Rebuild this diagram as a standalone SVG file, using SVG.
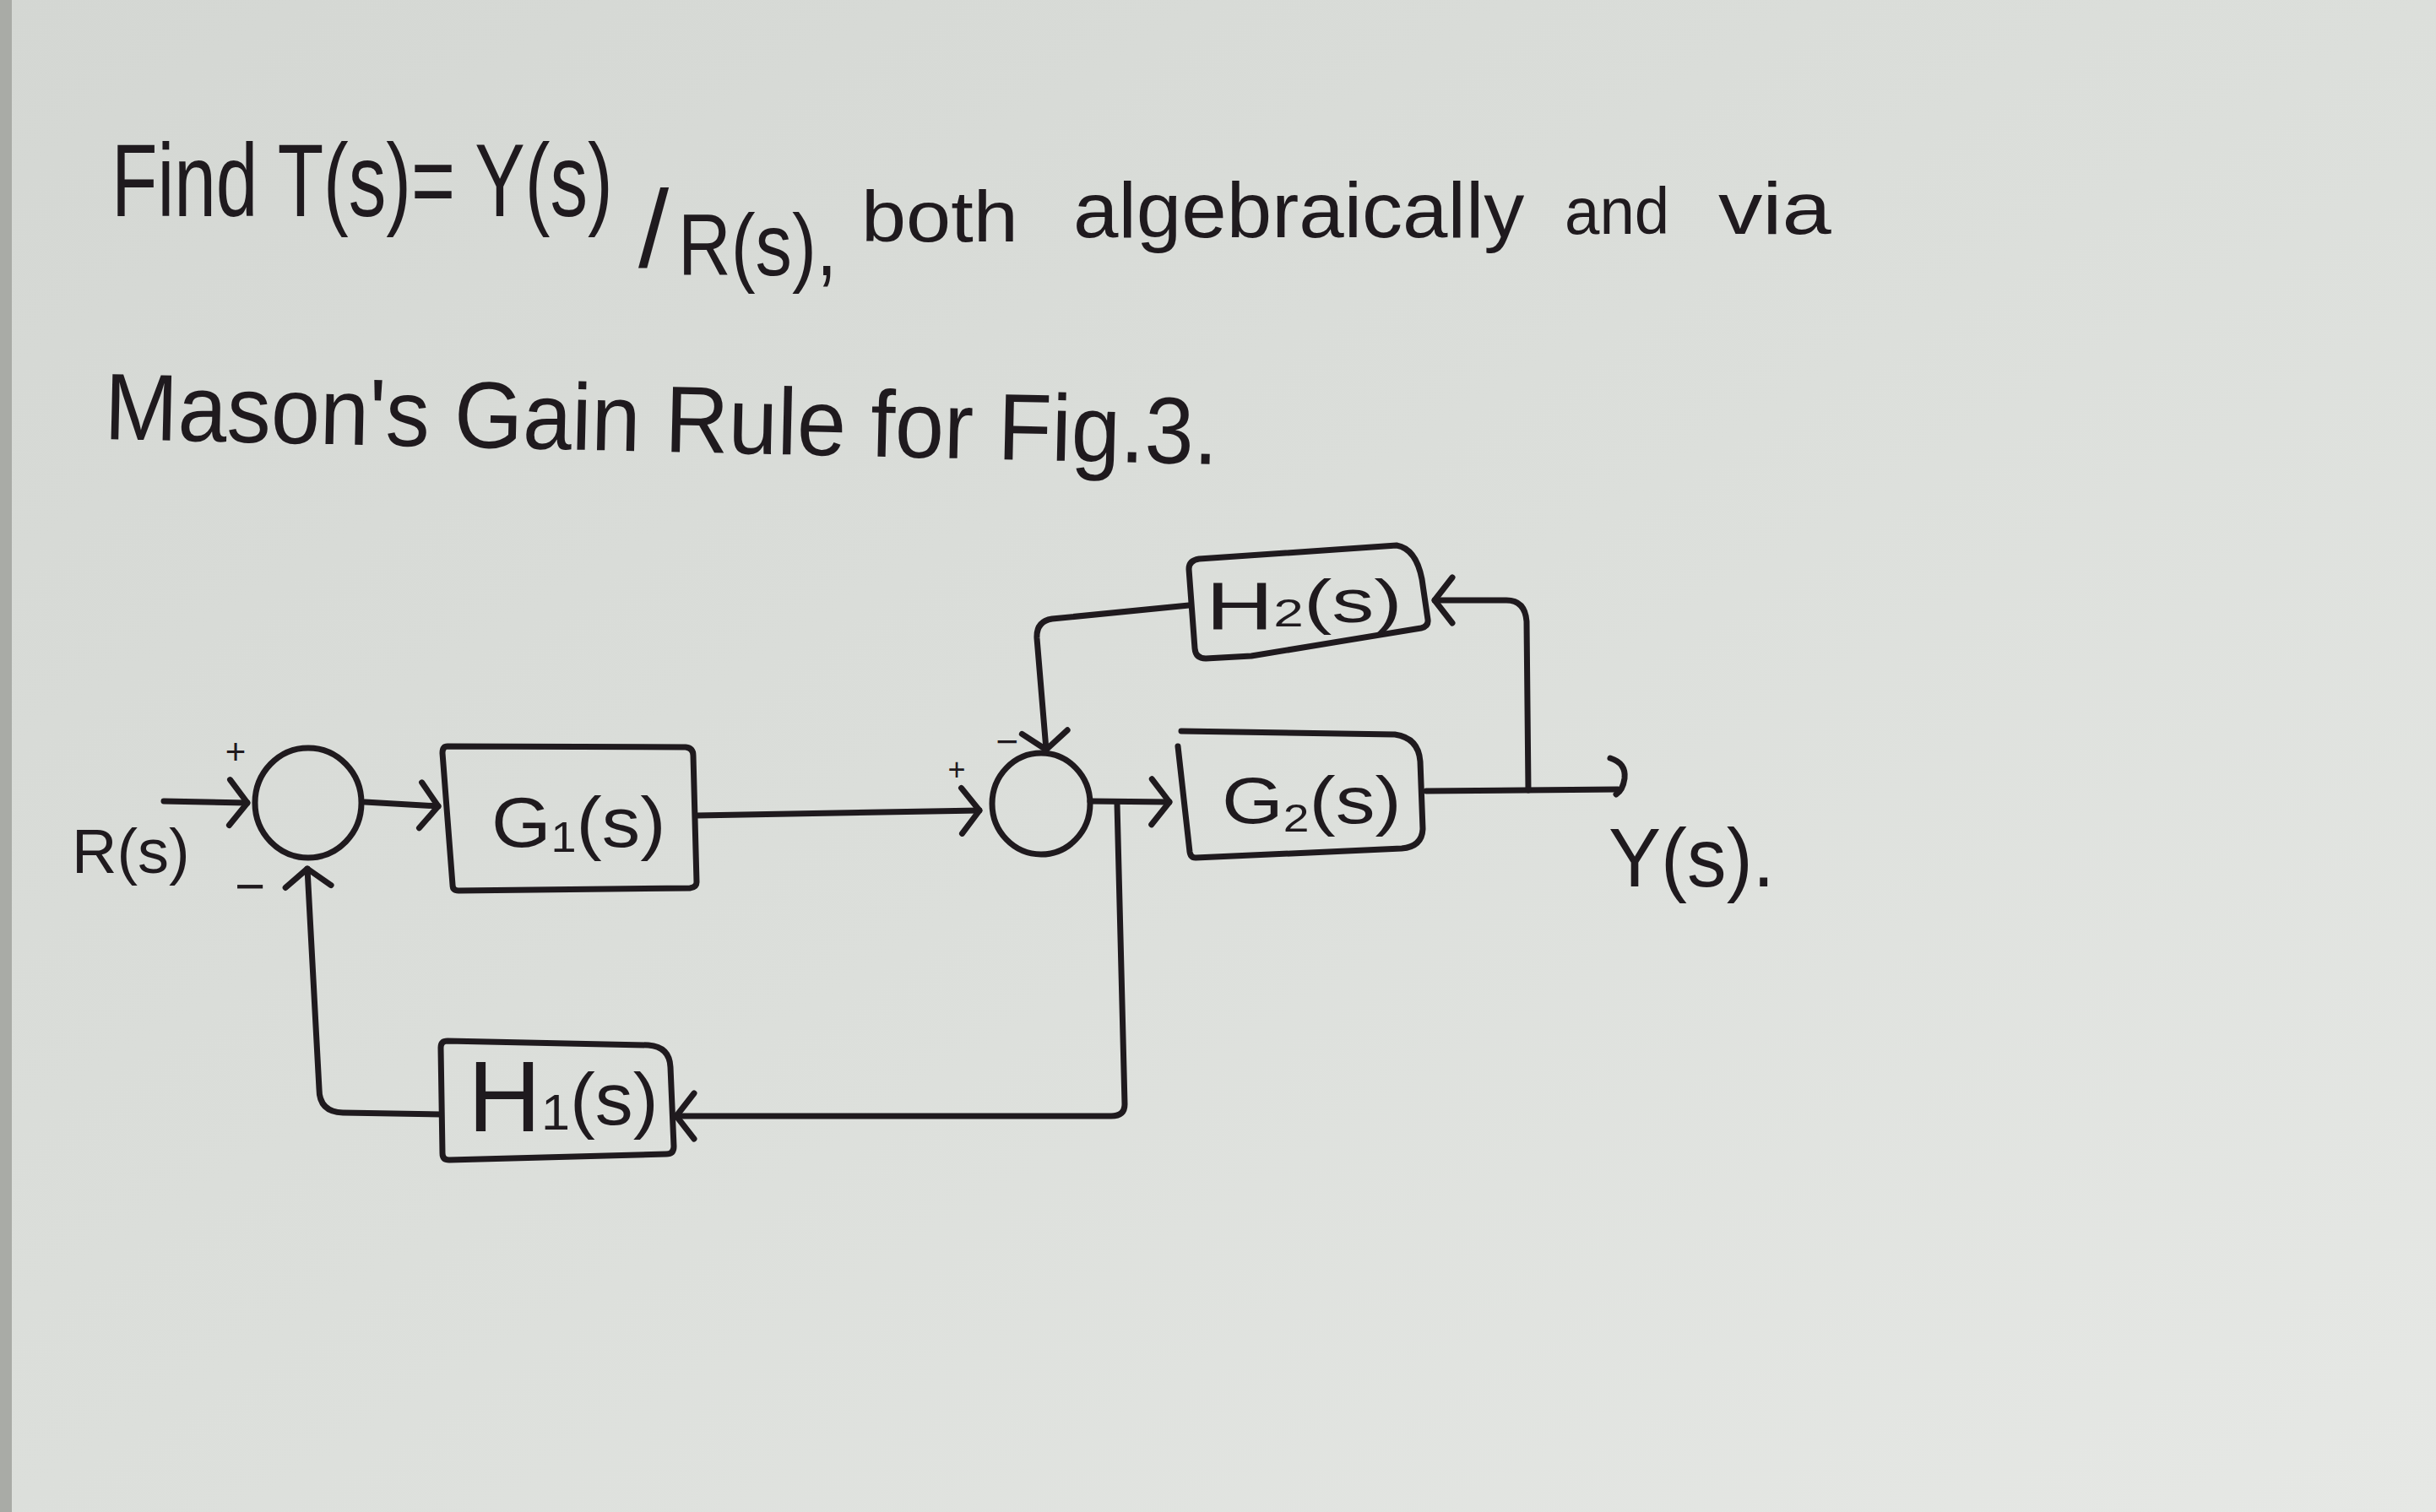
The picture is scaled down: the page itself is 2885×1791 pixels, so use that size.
<svg xmlns="http://www.w3.org/2000/svg" width="2885" height="1791" viewBox="0 0 2885 1791">
<defs>
<linearGradient id="paper" x1="0" y1="0" x2="1" y2="1">
<stop offset="0" stop-color="#d4d7d3"/>
<stop offset="0.5" stop-color="#dcdfdb"/>
<stop offset="1" stop-color="#e6e8e5"/>
</linearGradient>
<marker id="chev" markerUnits="userSpaceOnUse" markerWidth="60" markerHeight="70" viewBox="-40 -35 50 70" refX="0" refY="0" orient="auto">
<path d="M -21 -27 L 0 0 L -21 27" fill="none" stroke="#1f1a1e" stroke-width="7" stroke-linecap="round" stroke-linejoin="round"/>
</marker>
<style>
.ink{fill:none;stroke:#1f1a1e;stroke-width:7;stroke-linecap:round;stroke-linejoin:round}
.hw{font-family:"Liberation Sans","DejaVu Sans",sans-serif;fill:#1f1a1e}
</style>
</defs>
<rect x="0" y="0" width="2885" height="1791" fill="url(#paper)"/>
<rect x="0" y="0" width="14" height="1791" fill="#a9aba6"/>

<g id="title">
<text class="hw" x="0" y="0" font-size="122" transform="translate(132 256) scale(0.731 1)">Find T(s)= Y(s)</text>
<text class="hw" x="756" y="316" font-size="130">/</text>
<text class="hw" x="0" y="0" font-size="104" transform="translate(803 326) scale(0.835 1)">R(s),</text>
<text class="hw" x="0" y="0" font-size="86" transform="translate(1020 286) scale(1.11 1)">both</text>
<text class="hw" x="0" y="0" font-size="92" transform="translate(1271 281) scale(1.045 1)">algebraically</text>
<text class="hw" x="0" y="0" font-size="78" transform="translate(1853 277) scale(0.954 1)">and</text>
<text class="hw" x="0" y="0" font-size="88" transform="translate(2035 277) scale(1.19 1)">via</text>
<text class="hw" x="0" y="0" font-size="112" transform="translate(123 520) rotate(1.3) scale(0.932 1)">Mason's Gain Rule for Fig.3.</text>
</g>

<g id="connectors">
<path class="ink" d="M 194 949 L 293 951" marker-end="url(#chev)"/>
<path class="ink" d="M 432 950 L 519 955" marker-end="url(#chev)"/>
<path class="ink" d="M 825 966 L 1160 960" marker-end="url(#chev)"/>
<path class="ink" d="M 1291 949 L 1385 950" marker-end="url(#chev)"/>
<path class="ink" d="M 1689 937 L 1916 935"/>
<path class="ink" d="M 1907 898 Q 1926 904 1924 922 Q 1922 936 1914 941"/>
<path class="ink" d="M 1810 936 L 1808 736 Q 1806 711 1784 711 L 1699 711" marker-end="url(#chev)"/>
<path class="ink" d="M 1408 717 L 1246 733 Q 1227 736 1228 756 L 1239 888" marker-end="url(#chev)"/>
<path class="ink" d="M 1323 952 L 1332 1308 Q 1332 1322 1316 1322 L 801 1322" marker-end="url(#chev)"/>
<path class="ink" d="M 522 1320 L 406 1318 Q 378 1317 378 1290 L 364 1029" marker-end="url(#chev)"/>
</g>

<g id="sum1">
<ellipse class="ink" cx="365" cy="951" rx="63" ry="65"/>
<text class="hw" x="279" y="905" font-size="42" text-anchor="middle">+</text>
<text class="hw" x="296" y="1071" font-size="62" text-anchor="middle">−</text>
</g>

<g id="G1">
<path class="ink" d="M 530 884 L 812 885 Q 821 886 821 895 L 825 1045 Q 825 1051 817 1052 L 543 1055 Q 536 1055 536 1048 L 524 892 Q 524 884 530 884 Z"/>
<text class="hw" x="0" y="0" font-size="84" transform="translate(582 1003) scale(1.08 1)">G<tspan font-size="50" dy="6">1</tspan><tspan dy="-6">(s)</tspan></text>
</g>

<g id="H1">
<path class="ink" d="M 530 1233 L 768 1238 Q 793 1240 794 1264 L 798 1358 Q 798 1367 789 1367 L 532 1374 Q 524 1374 524 1366 L 522 1241 Q 522 1233 530 1233 Z"/>
<text class="hw" x="0" y="0" font-size="118" transform="translate(554 1340) scale(1.02 1)">H<tspan font-size="60" dy="-2">1</tspan><tspan font-size="88" dy="-6">(s)</tspan></text>
</g>

<g id="sum2">
<ellipse class="ink" cx="1233" cy="952" rx="58" ry="60"/>
<text class="hw" x="1133" y="924" font-size="36" text-anchor="middle">+</text>
<text class="hw" x="1193" y="894" font-size="46" text-anchor="middle">−</text>
</g>

<g id="G2">
<path class="ink" d="M 1399 866 L 1652 870 Q 1680 874 1682 902 L 1685 982 Q 1684 1003 1660 1005 L 1416 1016 Q 1410 1016 1409 1009 L 1395 884"/>
<text class="hw" x="0" y="0" font-size="78" transform="translate(1447 975) scale(1.2 1)">G<tspan font-size="46" dy="10">2</tspan><tspan dy="-10">(s)</tspan></text>
</g>

<g id="H2">
<path class="ink" d="M 1420 662 L 1654 646 Q 1677 650 1684 686 L 1691 734 Q 1692 742 1683 744 L 1482 777 L 1428 780 Q 1416 780 1415 768 L 1408 674 Q 1408 664 1420 662 Z"/>
<text class="hw" x="0" y="0" font-size="80" transform="translate(1428 745) scale(1.39 1)">H<tspan font-size="46" dy="-3">2</tspan><tspan font-size="72" dy="-5">(s)</tspan></text>
</g>

<g id="labels">
<text class="hw" x="85" y="1034" font-size="74">R(s)</text>
<text class="hw" x="0" y="0" font-size="98" transform="translate(1905 1050) scale(0.95 1)">Y(s).</text>
</g>
</svg>
